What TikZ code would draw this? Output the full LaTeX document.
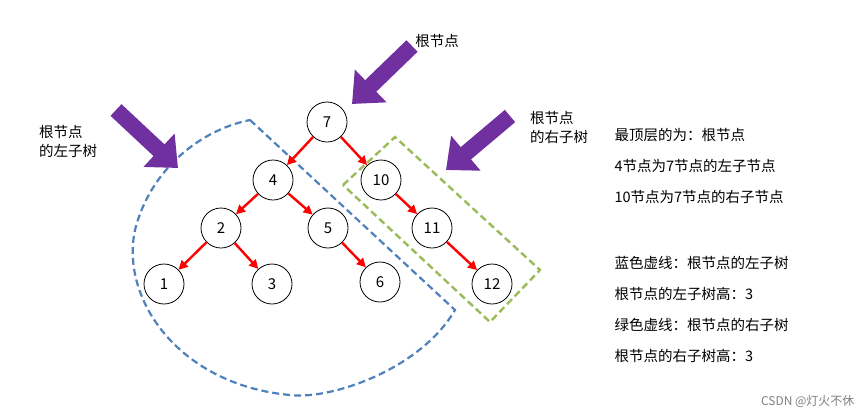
\documentclass[tikz,border=0pt]{standalone}
\usepackage{fontspec}
\newfontfamily\cjk{Noto Sans CJK SC}
\usetikzlibrary{arrows.meta}
\definecolor{purp}{HTML}{7030A0}
\definecolor{bluel}{HTML}{4F81BD}
\definecolor{greenl}{HTML}{9BBB59}
\tikzset{
 tn/.style={circle,draw,thick,minimum size=40pt,inner sep=0pt,font=\cjk\fontsize{15}{15}\selectfont},
 ed/.style={red,line width=2.4pt,-{Triangle[length=9pt,width=9pt]}},
 pa/.style={purp,line width=16pt,-{Triangle[length=26pt,width=44pt]}},
 lb/.style={font=\cjk\fontsize{14.5}{19}\selectfont,align=left},
 tx/.style={font=\cjk\fontsize{14.5}{14.5}\selectfont,anchor=west}
}
\begin{document}
\begin{tikzpicture}[x=1pt,y=-1pt]
\useasboundingbox (0,0) rectangle (864,418);
\fill[white] (0,0) rectangle (864,418);
% blue dashed sector
\draw[bluel,line width=2.2pt,dash pattern=on 7pt off 4pt] (250,120) -- (455,310)
  .. controls (420,370) and (330,400) .. (290,395) .. controls (180,385) and (120,300) .. (135,230)
  .. controls (150,170) and (200,130) .. (250,120);
% green dashed rect
\draw[greenl,line width=2.4pt,dash pattern=on 7pt off 4pt] (343,185) -- (395,137) -- (540,270) -- (490,322) -- cycle;
\node[tn] (n7) at (327,122) {7};
\node[tn] (n4) at (273,180) {4};
\node[tn] (n10) at (381,180) {10};
\node[tn] (n2) at (221,228) {2};
\node[tn] (n5) at (328,228) {5};
\node[tn] (n11) at (432,228) {11};
\node[tn] (n1) at (164,284) {1};
\node[tn] (n3) at (272,284) {3};
\node[tn] (n6) at (380,282) {6};
\node[tn] (n12) at (492,284) {12};
\foreach \a/\b in {n7/n4,n7/n10,n4/n2,n4/n5,n2/n1,n2/n3,n5/n6,n10/n11,n11/n12}
  \draw[ed] (\a) -- (\b);
% purple arrows
\coordinate (p1s) at (412,46); \coordinate (p1e) at (352,104);
\coordinate (p2s) at (116,110); \coordinate (p2e) at (178,168);
\coordinate (p3s) at (510,116); \coordinate (p3e) at (446,170);
\draw[pa] (p1s) -- (p1e);
\draw[pa] (p2s) -- (p2e);
\draw[pa] (p3s) -- (p3e);
\node[lb] (l1) at (437,41) {根节点};
\node[lb] (l2) at (68,141) {根节点\\的左子树};
\node[lb] (l3) at (559,127) {根节点\\的右子树};
\node[tx] (t1) at (611,135) {最顶层的为：根节点};
\node[tx] (t2) at (611,166) {4节点为7节点的左子节点};
\node[tx] (t3) at (611,197) {10节点为7节点的右子节点};
\node[tx] (t4) at (611,263) {蓝色虚线：根节点的左子树};
\node[tx] (t5) at (611,294) {根节点的左子树高：3};
\node[tx] (t6) at (611,325) {绿色虚线：根节点的右子树};
\node[tx] (t7) at (611,356) {根节点的右子树高：3};
\node[font=\cjk\fontsize{12}{12}\selectfont,text=gray,anchor=east] (wm) at (858,402) {CSDN @灯火不休};
\end{tikzpicture}
\end{document}
